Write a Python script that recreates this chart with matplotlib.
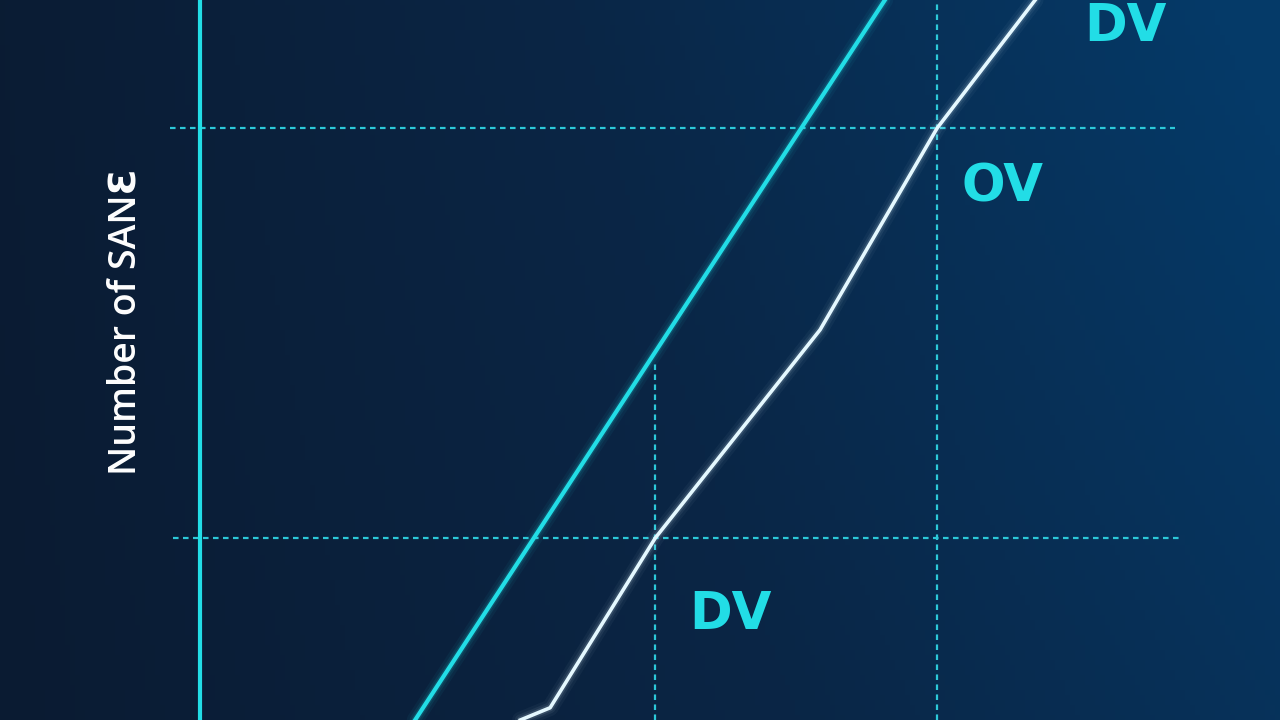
import numpy as np
import matplotlib.pyplot as plt
from matplotlib.colors import LinearSegmentedColormap

# data (x: 0..12, y: 0..10)
cyan_x = [2.39, 7.61]
cyan_y = [0.0, 10.0]
white_x = [3.56, 3.89, 5.06, 6.89, 8.19, 9.28]
white_y = [0.0, 0.17, 2.53, 5.42, 8.22, 10.0]

h_levels = [2.53, 8.22]
v_low_x = 5.06
v_low_top = 5.0
v_high_x = 8.19

labels = ["DV", "OV", "DV"]
label_x = [5.89, 8.92, 10.28]
label_y = [1.46, 7.39, 9.62]

ylabel = "Number of SANƐ"

CYAN = '#22dde6'
WHITE = '#e4f8ff'
DASH = '#2cc8d8'

fig = plt.figure(figsize=(12.8, 7.2), dpi=100)

# background gradient
bg = fig.add_axes([0, 0, 1, 1])
gx = np.linspace(0, 1, 256)
gy = np.linspace(0, 1, 144)
X, Y = np.meshgrid(gx, gy)
grad = np.clip(0.8 * X + 0.2 * (1 - Y) * X + 0.05 * (1 - Y), 0, 1)
cmap = LinearSegmentedColormap.from_list('bg', ['#0a1b32', '#0a2646', '#053a68'])
bg.imshow(grad, cmap=cmap, aspect='auto', extent=[0, 1, 0, 1], origin='upper')
bg.axis('off')

ax = fig.add_axes([200 / 1280, 0, 1080 / 1280, 1])
ax.set_xlim(0, 12)
ax.set_ylim(0, 10)
ax.patch.set_alpha(0)
for s in ['top', 'right', 'bottom']:
    ax.spines[s].set_visible(False)
ax.spines['left'].set_color(CYAN)
ax.spines['left'].set_linewidth(3)
ax.set_xticks([])
ax.set_yticks([])

# dashed guides
ax.plot([-0.33, 10.83], [h_levels[1]] * 2, color=DASH, lw=1.6, ls=(0, (2.5, 2)), clip_on=False)
ax.plot([-0.30, 10.89], [h_levels[0]] * 2, color=DASH, lw=1.6, ls=(0, (2.5, 2)), clip_on=False)
ax.plot([v_low_x] * 2, [0, v_low_top], color=DASH, lw=1.6, ls=(0, (2.5, 2)))
ax.plot([v_high_x] * 2, [0, 10], color=DASH, lw=1.6, ls=(0, (2.5, 2)))

# glowing lines
for w, a in [(12, 0.05), (8, 0.08), (5, 0.15)]:
    ax.plot(cyan_x, cyan_y, color=CYAN, lw=w, alpha=a, solid_capstyle='round')
    ax.plot(white_x, white_y, color=WHITE, lw=w, alpha=a * 0.8, solid_capstyle='round')
ax.plot(cyan_x, cyan_y, color=CYAN, lw=3)
ax.plot(white_x, white_y, color=WHITE, lw=2.6)

for t, x, y in zip(labels, label_x, label_y):
    ax.text(x, y, t, color=CYAN, fontsize=37, fontweight='bold',
            ha='center', va='center', clip_on=False)

fig.text(125 / 1280, 1 - 322 / 720, ylabel, color='white', fontsize=27,
         rotation=90, ha='center', va='center',
         family=['Open Sans', 'DejaVu Sans'], fontweight='semibold')

fig.savefig('out.png', dpi=100)
